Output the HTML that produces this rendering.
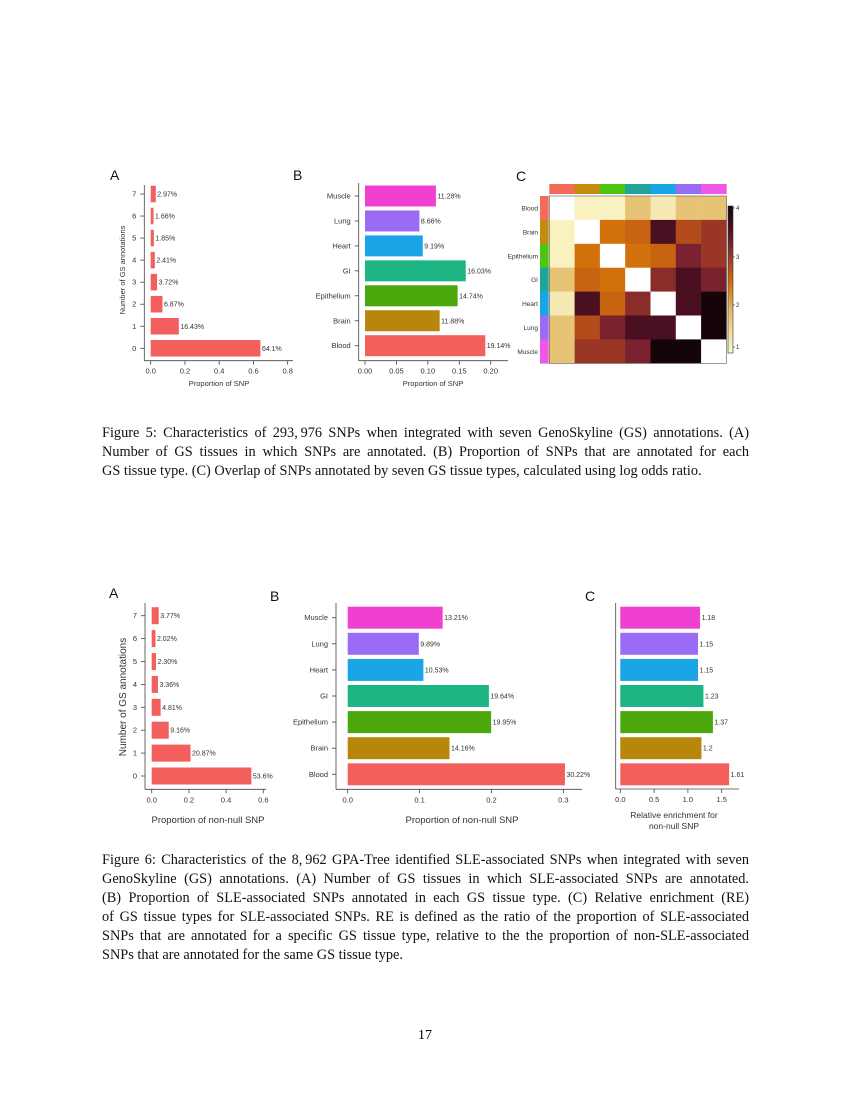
<!DOCTYPE html>
<html><head><meta charset="utf-8"><style>
body{margin:0;background:#fff;}
#page{position:relative;width:850px;height:1100px;overflow:hidden;background:#fff;}
svg{position:absolute;left:0;top:0;}
.cap{position:absolute;left:102px;width:647px;font-family:"Liberation Serif",serif;font-size:14.3px;line-height:19px;color:#111;}
.cap div{white-space:nowrap;text-align:justify;text-align-last:justify;}
.cap div.last{text-align-last:left;}
text{font-family:"Liberation Sans",sans-serif;fill:#333;}
</style></head><body>
<div id="page">
<svg id="svg" width="850" height="1100"></svg>
<div class="cap" style="top:424px">
<div>Figure 5: Characteristics of 293,&#8201;976 SNPs when integrated with seven GenoSkyline (GS) annotations. (A)</div>
<div>Number of GS tissues in which SNPs are annotated. (B) Proportion of SNPs that are annotated for each</div>
<div class="last">GS tissue type. (C) Overlap of SNPs annotated by seven GS tissue types, calculated using log odds ratio.</div>
</div>
<div class="cap" style="top:851px">
<div>Figure 6: Characteristics of the 8,&#8201;962 GPA-Tree identified SLE-associated SNPs when integrated with seven</div>
<div>GenoSkyline (GS) annotations. (A) Number of GS tissues in which SLE-associated SNPs are annotated.</div>
<div>(B) Proportion of SLE-associated SNPs annotated in each GS tissue type. (C) Relative enrichment (RE)</div>
<div>of GS tissue types for SLE-associated SNPs. RE is defined as the ratio of the proportion of SLE-associated</div>
<div>SNPs that are annotated for a specific GS tissue type, relative to the the proportion of non-SLE-associated</div>
<div class="last">SNPs that are annotated for the same GS tissue type.</div>
</div>
<div style="position:absolute;left:0;width:850px;top:1028px;text-align:center;font-family:'Liberation Serif',serif;font-size:14px">17</div>
</div>
<script>
// ---- data ----
const countCats = ["0","1","2","3","4","5","6","7"];
const fig5A = [0.641,0.1643,0.0687,0.0372,0.0241,0.0185,0.0166,0.0297];
const fig5ALabels = ["64.1%","16.43%","6.87%","3.72%","2.41%","1.85%","1.66%","2.97%"];
const tissues = ["Blood","Brain","Epithelium","GI","Heart","Lung","Muscle"];
const fig5B = [0.1914,0.1188,0.1474,0.1603,0.0919,0.0866,0.1128];
const fig5BLabels = ["19.14%","11.88%","14.74%","16.03%","9.19%","8.66%","11.28%"];
const heat = [
 [null,1.6,1.6,2.2,1.7,2.2,2.2],
 [1.6,null,2.8,2.9,3.8,3.1,3.3],
 [1.6,2.8,null,2.8,2.9,3.5,3.3],
 [2.2,2.9,2.8,null,3.4,3.8,3.5],
 [1.7,3.8,2.9,3.4,null,3.8,4.2],
 [2.2,3.1,3.5,3.8,3.8,null,4.2],
 [2.2,3.3,3.3,3.5,4.2,4.2,null]];
const fig6A = [0.536,0.2087,0.0916,0.0481,0.0336,0.0230,0.0202,0.0377];
const fig6ALabels = ["53.6%","20.87%","9.16%","4.81%","3.36%","2.30%","2.02%","3.77%"];
const fig6B = [0.3022,0.1416,0.1995,0.1964,0.1053,0.0989,0.1321];
const fig6BLabels = ["30.22%","14.16%","19.95%","19.64%","10.53%","9.89%","13.21%"];
const fig6C = [1.61,1.2,1.37,1.23,1.15,1.15,1.18];
const fig6CLabels = ["1.61","1.2","1.37","1.23","1.15","1.15","1.18"];

const tissueColors = ["#f25f5c","#b8860b","#4aa80c","#1db584","#1aa6e6","#9a6cf5","#f040d0"];
const stripColors = ["#f26b5b","#c58a10","#4dc40f","#20a49a","#19a4e6","#9a6cf5","#f057e6"];
const NS="http://www.w3.org/2000/svg";
const svg=document.getElementById('svg');
function el(tag,attrs,parent){const e=document.createElementNS(NS,tag);for(const k in attrs)e.setAttribute(k,attrs[k]);(parent||svg).appendChild(e);return e;}
function txt(x,y,s,size,anchor,parent,extra){const t=el('text',Object.assign({x:x,y:y,'font-size':size,'text-anchor':anchor||'start'},extra||{}),parent);t.textContent=s;return t;}

function hbar(o){
  const g=el('g',{});
  
  
  const sx=v=>o.x0+v*o.k;
  const n=o.cats.length;
  const sy=i=>o.yFirst+(o.yLast-o.yFirst)*i/(n-1);
  el('line',{x1:o.ax,y1:o.axTop,x2:o.ax,y2:o.ay,stroke:'#444','stroke-width':0.8},g);
  el('line',{x1:o.ax,y1:o.ay,x2:o.axRight,y2:o.ay,stroke:'#444','stroke-width':0.8},g);
  o.cats.forEach((c,i)=>{
    const y=sy(i),v=o.vals[i],h=o.bh;
    const r=el('rect',{x:sx(0),y:y-h/2,width:Math.max(0,sx(v)-sx(0)),height:h,fill:o.colors?o.colors[i]:'#f25f5c'},g);
    
    
    txt(sx(v)+1.5,y+2.5,o.labels[i],o.vfs,'start',g);
    if(!o.noCat){
      el('line',{x1:o.ax-4,y1:y,x2:o.ax,y2:y,stroke:'#444','stroke-width':0.8},g);
      txt(o.ax-8,y+2.5,c,o.cfs,'end',g);
    }
  });
  o.ticks.forEach((t,i)=>{
    const x=sx(t);
    el('line',{x1:x,y1:o.ay,x2:x,y2:o.ay+4,stroke:'#444','stroke-width':0.8},g);
    txt(x,o.ay+13,o.tickLabels[i],o.tfs,'middle',g);
  });
  o.title.forEach((s,i)=>txt(o.titleX,o.titleY+i*11,s,o.ttfs,'middle',g));
  if(o.ytitle){txt(0,0,o.ytitle,o.ytfs,'middle',g,{transform:`translate(${o.ytx},${o.yty}) rotate(-90)`});}
  txt(o.letter[0],o.letter[1],o.letter[2],14,'start',g,{style:'fill:#111'});
}
hbar({name:'fig5-panel-a',cats:countCats,vals:fig5A,labels:fig5ALabels,x0:150.7,k:171.2,yFirst:348.3,yLast:194,bh:16.5,
 ax:144.3,axTop:185,ay:360.7,axRight:293,ticks:[0,0.2,0.4,0.6,0.8],tickLabels:["0.0","0.2","0.4","0.6","0.8"],
 vfs:7,cfs:7.5,tfs:7.5,ttfs:7.5,title:["Proportion of SNP"],titleX:219,titleY:386,ytitle:"Number of GS annotations",ytfs:7.5,ytx:125,yty:270,letter:[110,180,'A']});
hbar({name:'fig5-panel-b',cats:tissues,vals:fig5B,labels:fig5BLabels,colors:tissueColors,x0:365,k:628.5,yFirst:345.7,yLast:196,bh:21,
 ax:358.7,axTop:183,ay:360.7,axRight:508,ticks:[0,0.05,0.1,0.15,0.2],tickLabels:["0.00","0.05","0.10","0.15","0.20"],
 vfs:7,cfs:7.5,tfs:7.5,ttfs:7.5,title:["Proportion of SNP"],titleX:433,titleY:386,letter:[293,180,'B']});
(function(){
  const g=el('g',{});
  
  
  const stops=[[1.5,[252,250,205]],[2.2,[231,195,117]],[2.8,[210,112,12]],[3.2,[168,64,31]],[3.5,[122,34,48]],[3.8,[74,15,32]],[4.2,[21,5,8]]];
  function col(v){if(v===null)return '#fff';for(let i=0;i<stops.length-1;i++){const a=stops[i],b=stops[i+1];if(v<=b[0]){const t=Math.max(0,(v-a[0])/(b[0]-a[0]));return 'rgb('+a[1].map((c,j)=>Math.round(c+(b[1][j]-c)*t)).join(',')+')';}}return 'rgb(21,5,8)';}
  const X0=549.3,Y0=196,cw=25.3,ch=23.9;
  tissues.forEach((t,i)=>{
    el('rect',{x:X0+i*cw,y:184,width:cw+0.3,height:10,fill:stripColors[i]},g);
    el('rect',{x:540,y:Y0+i*ch,width:8.7,height:ch+0.3,fill:stripColors[i]},g);
    txt(538,Y0+i*ch+ch/2+2.5,t,6.5,'end',g);
    tissues.forEach((u,j)=>{
      const r=el('rect',{x:X0+j*cw,y:Y0+i*ch,width:cw+0.3,height:ch+0.3,fill:col(heat[i][j])},g);
      
      
    });
  });
  el('rect',{x:X0,y:Y0,width:cw*7,height:ch*7,fill:'none',stroke:'#555','stroke-width':0.6},g);
  const defs=el('defs',{},g);
  const lg=el('linearGradient',{id:'cb',x1:0,y1:1,x2:0,y2:0},defs);
  stops.forEach(s=>el('stop',{offset:((s[0]-1.5)/2.7),'stop-color':'rgb('+s[1].join(',')+')'},lg));
  el('rect',{x:728,y:206,width:5,height:147,fill:'url(#cb)',stroke:'#333','stroke-width':0.6},g);
  [[208,'4'],[257,'3'],[305,'2'],[347,'1']].forEach(a=>{el('line',{x1:733,y1:a[0],x2:735,y2:a[0],stroke:'#333','stroke-width':0.6},g);txt(736,a[0]+2,a[1],6,'start',g);});
  txt(516,181,'C',14,'start',g,{style:'fill:#111'});
})();
hbar({name:'fig6-panel-a',cats:countCats,vals:fig6A,labels:fig6ALabels,x0:151.7,k:186,yFirst:776,yLast:615.7,bh:17,
 ax:145,axTop:603,ay:789.3,axRight:266,ticks:[0,0.2,0.4,0.6],tickLabels:["0.0","0.2","0.4","0.6"],
 vfs:7,cfs:7.5,tfs:7.5,ttfs:9.5,title:["Proportion of non-null SNP"],titleX:208,titleY:823,ytitle:"Number of GS annotations",ytfs:10,ytx:126,yty:697,letter:[109,598,'A']});
hbar({name:'fig6-panel-b',cats:tissues,vals:fig6B,labels:fig6BLabels,colors:tissueColors,x0:347.7,k:718.9,yFirst:774.3,yLast:617.7,bh:22,
 ax:336,axTop:603,ay:789.3,axRight:582,ticks:[0,0.1,0.2,0.3],tickLabels:["0.0","0.1","0.2","0.3"],
 vfs:7,cfs:7.5,tfs:7.5,ttfs:9.5,title:["Proportion of non-null SNP"],titleX:462,titleY:823,letter:[270,601,'B']});
hbar({name:'fig6-panel-c',cats:tissues,vals:fig6C,labels:fig6CLabels,colors:tissueColors,x0:620.3,k:67.6,yFirst:774.3,yLast:617.7,bh:22,noCat:true,
 ax:615.7,axTop:603,ay:789,axRight:739,ticks:[0,0.5,1,1.5],tickLabels:["0.0","0.5","1.0","1.5"],
 vfs:7,cfs:7.5,tfs:7.5,ttfs:8.5,title:["Relative enrichment for","non-null SNP"],titleX:674,titleY:818,letter:[585,601,'C']});
</script>
</body></html>
